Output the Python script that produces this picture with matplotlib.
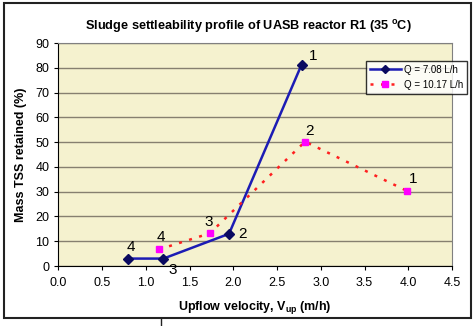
import matplotlib
matplotlib.use("Agg")
import matplotlib.pyplot as plt
from matplotlib.patches import Rectangle
from matplotlib.lines import Line2D

plt.rcParams['font.family'] = ['Liberation Sans', 'DejaVu Sans']
plt.rcParams['mathtext.fontset'] = 'custom'
plt.rcParams['mathtext.bf'] = 'Liberation Sans:bold'
plt.rcParams['mathtext.rm'] = 'Liberation Sans'

# Q = 7.08 L/h
v_q1 = [0.80, 1.20, 1.95, 2.78]
tss_q1 = [3.0, 3.0, 13.0, 81.3]
lab_q1 = ['4', '3', '2', '1']

# Q = 10.17 L/h
v_q2 = [1.15, 1.73, 2.82, 3.98]
tss_q2 = [6.7, 13.2, 50.2, 30.4]
lab_q2 = ['4', '3', '2', '1']

x_ticks = [0.0, 0.5, 1.0, 1.5, 2.0, 2.5, 3.0, 3.5, 4.0, 4.5]
y_ticks = [0, 10, 20, 30, 40, 50, 60, 70, 80, 90]

# label offsets (points) for each marker
off_q1 = [(1.5, 8), (7, -8.5), (10, 0), (8, 6.5)]
off_q2 = [(1, 9), (-1, 8), (3, 7.5), (4.5, 8.5)]

fig = plt.figure(figsize=(4.74, 3.26), dpi=100)
ax = fig.add_axes([0.1234, 0.184, 0.8302, 0.684])
ax.set_facecolor('#f5f2cf')

ax.plot(v_q1, tss_q1, color='#1c1cb4', lw=1.8, marker='D', ms=5,
        mfc='#0a0a60', mec='#0a0a60', label='Q = 7.08 L/h', zorder=3)
ax.plot(v_q2, tss_q2, color='#ff2020', lw=1.8, ls=(0, (1.2, 3)), marker='s', ms=5,
        mfc='#ff00ff', mec='#ff00ff', label='Q = 10.17 L/h', zorder=3)

for x, y, t, o in zip(v_q1, tss_q1, lab_q1, off_q1):
    ax.annotate(t, (x, y), xytext=o, textcoords='offset points',
                ha='center', va='center', fontsize=11)
for x, y, t, o in zip(v_q2, tss_q2, lab_q2, off_q2):
    ax.annotate(t, (x, y), xytext=o, textcoords='offset points',
                ha='center', va='center', fontsize=11)

ax.set_xlim(0, 4.5)
ax.set_ylim(0, 90)
ax.set_xticks(x_ticks)
ax.set_xticklabels(['%.1f' % v for v in x_ticks])
ax.set_yticks(y_ticks)
ax.tick_params(labelsize=9, length=3, color='black')
ax.tick_params(axis='x', pad=5)
ax.yaxis.grid(True, color='#868070', lw=1)
ax.set_axisbelow(True)
for s in ['top', 'right']:
    ax.spines[s].set_color('#808080')
for s in ['left', 'bottom']:
    ax.spines[s].set_color('black')

ax.set_xlabel(r'Upflow velocity, V$_{\mathbf{up}}$ (m/h)', fontsize=9,
              fontweight='bold', labelpad=7)
ax.set_ylabel('Mass TSS retained (%)', fontsize=9, fontweight='bold', labelpad=6)
fig.text(0.525, 0.92, r'Sludge settleability profile of UASB reactor R1 (35 $^{\mathregular{o}}$C)',
         ha='center', va='center', fontsize=9.2, fontweight='bold')

leg = ax.legend(loc='upper left', bbox_to_anchor=(366 / 474, 1 - 61 / 326),
                bbox_transform=fig.transFigure, fontsize=7, frameon=True,
                fancybox=False, borderpad=0.4, handlelength=3.2, labelspacing=0.5,
                borderaxespad=0, handletextpad=0.3, markerscale=0.75)
leg.get_frame().set_edgecolor('black')
leg.get_frame().set_linewidth(1)

# outer chart border
fig.add_artist(Rectangle((4 / 474, 1 - 318 / 326), 467 / 474, 315 / 326,
                         transform=fig.transFigure, fill=False, ec='#222222', lw=1.5))
fig.add_artist(Line2D([161 / 474, 161 / 474], [0, 1 - 318 / 326],
                      transform=fig.transFigure, color='#222222', lw=1))

fig.savefig('out.png', dpi=100)
